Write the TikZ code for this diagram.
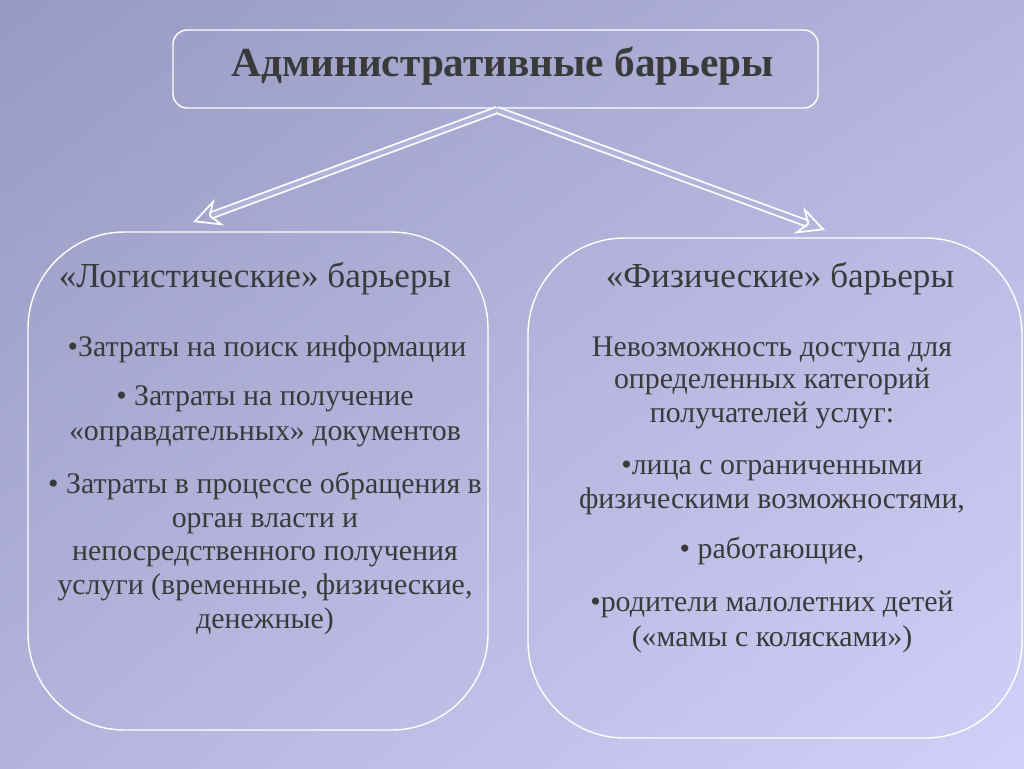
\documentclass[tikz,border=0pt]{standalone}
\usepackage{fontspec}
\setmainfont{Liberation Serif}
\usetikzlibrary{arrows.meta,shadings}
\definecolor{bgA}{HTML}{989AC2}
\definecolor{bgB}{HTML}{D2D0F8}
\definecolor{bgC}{HTML}{B3B3DC}
\definecolor{txt}{HTML}{3A3A3A}
\begin{document}
\begin{tikzpicture}[x=0.02cm,y=-0.02cm,
  frame/.style={draw=white,line width=0.8pt,rounded corners=#1},
  ln/.style={text=txt,font=\fontsize{17}{20}\selectfont,inner sep=0pt,anchor=base},
  hd/.style={text=txt,font=\fontsize{20}{24}\selectfont,inner sep=0pt,anchor=base},
  arr/.style={draw=white,line width=1pt,double=bgC,double distance=2.5pt,-{Stealth[open,length=16pt,width=16pt]}}]
\shade[upper left=bgA,upper right=bgC,lower left=bgC,lower right=bgB] (0,0) rectangle (1024,768);
\useasboundingbox (0,0) rectangle (1024,768);
\draw[frame=8pt] (173,30) rectangle (818,108);
\node[text=txt,font=\fontsize{23.5}{28}\selectfont\bfseries,inner sep=0pt,anchor=base] (title) at (503,76) {Административные барьеры};
\coordinate (top) at (497,110);
\coordinate (lt) at (193,222);
\coordinate (rt) at (825,230);
\draw[arr] (top) -- (lt);
\draw[arr] (top) -- (rt);
\draw[frame=55pt] (28,232) rectangle (488,730);
\draw[frame=55pt] (528,238) rectangle (1022,738);
\node[hd] (lh) at (255,287) {«Логистические» барьеры};
\node[ln] (l1) at (267,356) {•Затраты на поиск информации};
\node[ln] (l2) at (265,405) {• Затраты на получение};
\node[ln] (l3) at (265,440) {«оправдательных» документов};
\node[ln] (l4) at (265,493) {• Затраты в процессе обращения в};
\node[ln] (l5) at (265,527) {орган власти и};
\node[ln] (l6) at (265,560) {непосредственного получения};
\node[ln] (l7) at (265,594) {услуги (временные, физические,};
\node[ln] (l8) at (265,628) {денежные)};
\node[hd] (rh) at (780,287) {«Физические» барьеры};
\node[ln] (r1) at (772,356) {Невозможность доступа для};
\node[ln] (r2) at (772,388) {определенных категорий};
\node[ln] (r3) at (772,422) {получателей услуг:};
\node[ln] (r4) at (772,474) {•лица с ограниченными};
\node[ln] (r5) at (772,508) {физическими возможностями,};
\node[ln] (r6) at (772,558) {• работающие,};
\node[ln] (r7) at (772,611) {•родители малолетних детей};
\node[ln] (r8) at (772,646) {(«мамы с колясками»)};
\end{tikzpicture}
\end{document}
